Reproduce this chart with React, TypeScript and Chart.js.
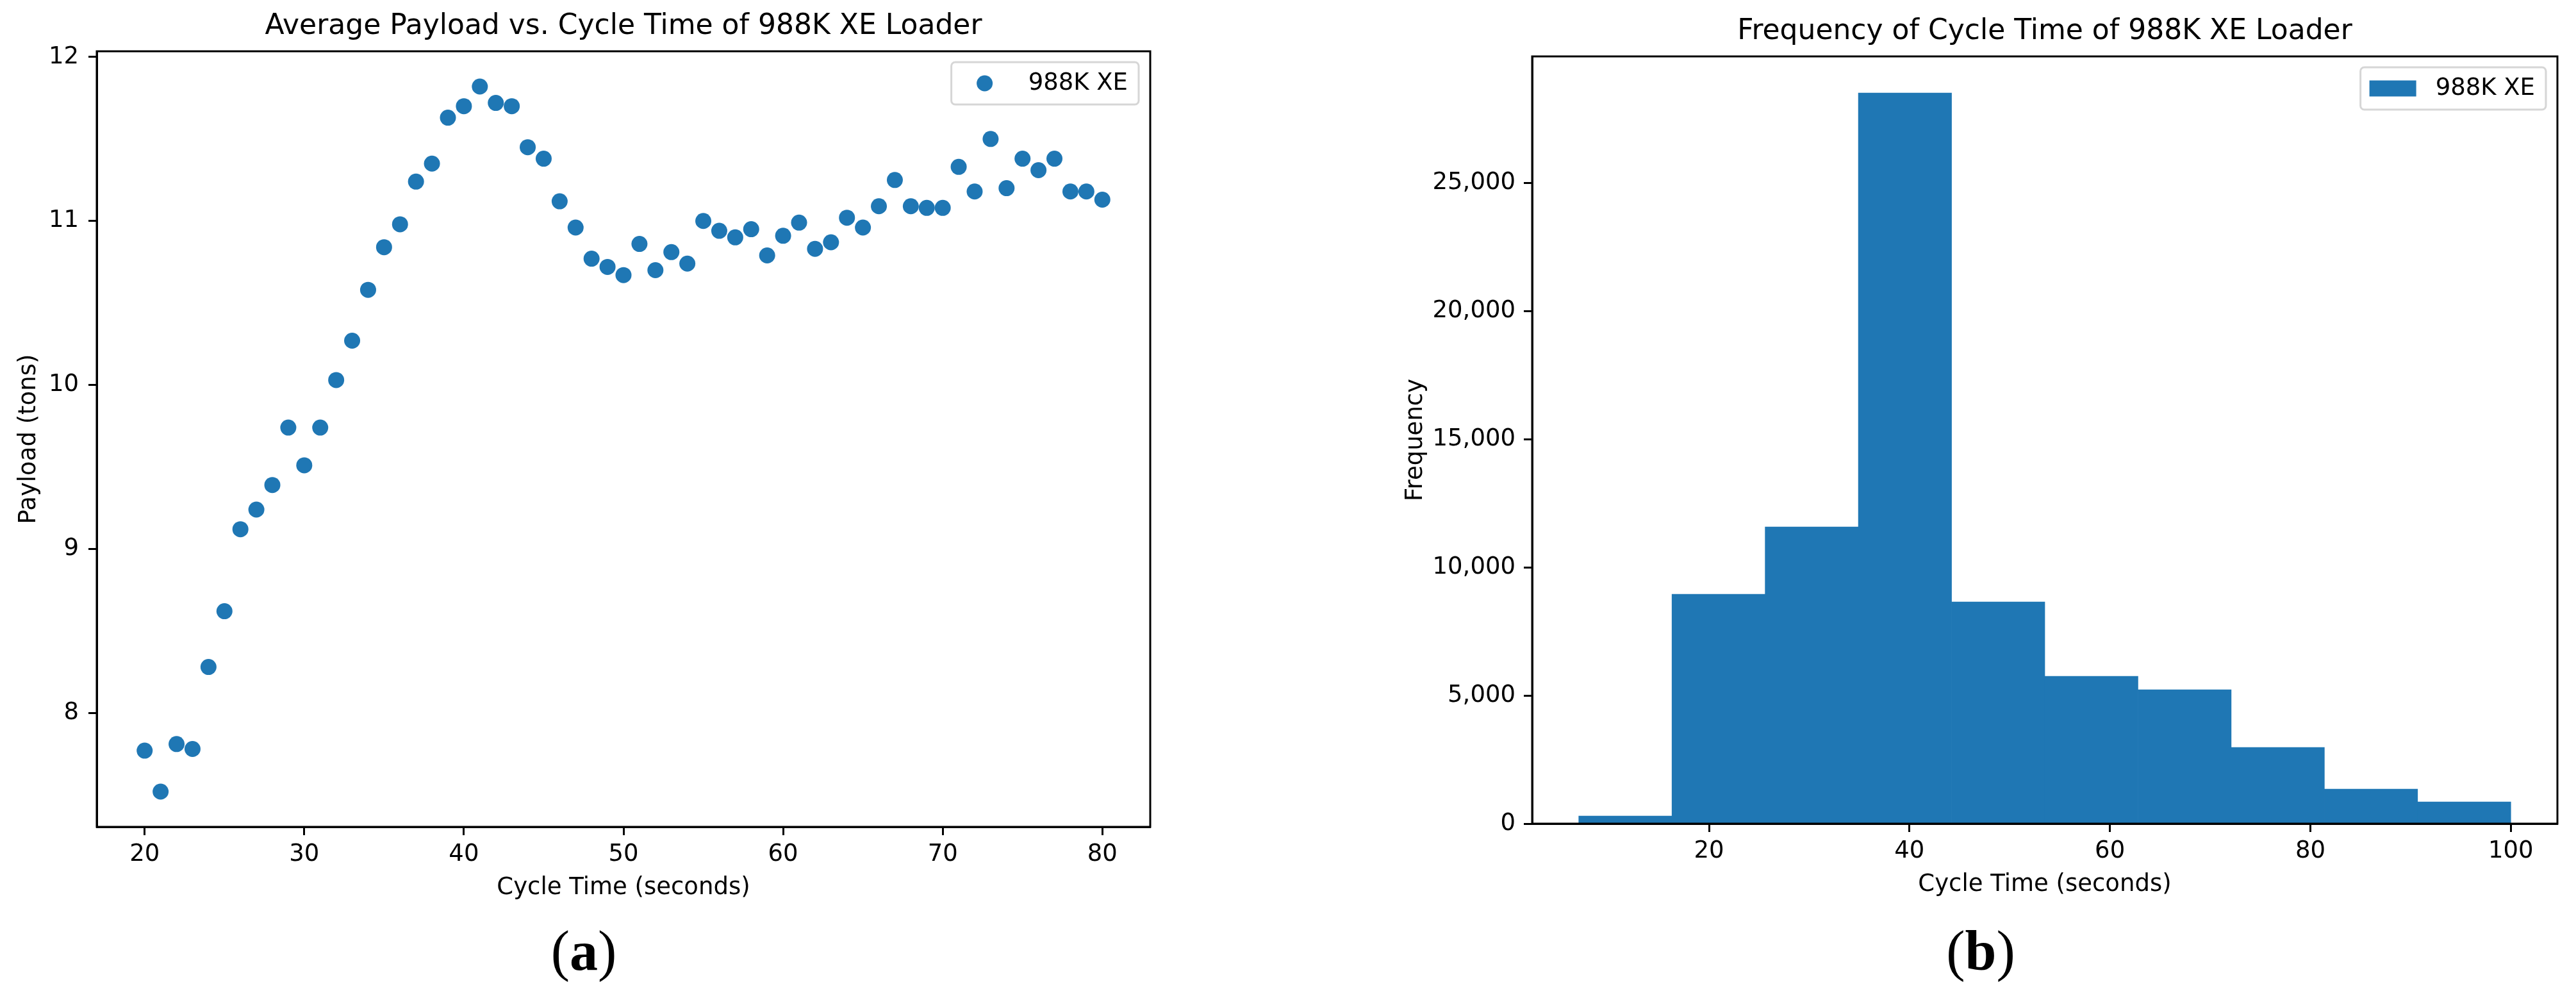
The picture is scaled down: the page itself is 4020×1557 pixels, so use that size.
import { useEffect, useRef } from "react";
import { Chart, registerables } from "chart.js";

Chart.register(...registerables);

const FONT = "'DejaVu Sans', 'Liberation Sans', sans-serif";
const BLUE = "#1f77b4";

// (a) average payload per cycle time
const cycleTimes = [
  20, 21, 22, 23, 24, 25, 26, 27, 28, 29, 30, 31, 32, 33, 34, 35, 36, 37, 38, 39, 40,
  41, 42, 43, 44, 45, 46, 47, 48, 49, 50, 51, 52, 53, 54, 55, 56, 57, 58, 59, 60,
  61, 62, 63, 64, 65, 66, 67, 68, 69, 70, 71, 72, 73, 74, 75, 76, 77, 78, 79, 80,
];
const payloads = [
  7.77, 7.52, 7.81, 7.78, 8.28, 8.62, 9.12, 9.24, 9.39, 9.74, 9.51, 9.74, 10.03, 10.27, 10.58, 10.84, 10.98, 11.24, 11.35, 11.63, 11.7,
  11.82, 11.72, 11.7, 11.45, 11.38, 11.12, 10.96, 10.77, 10.72, 10.67, 10.86, 10.7, 10.81, 10.74, 11.0, 10.94, 10.9, 10.95, 10.79, 10.91,
  10.99, 10.83, 10.87, 11.02, 10.96, 11.09, 11.25, 11.09, 11.08, 11.08, 11.33, 11.18, 11.5, 11.2, 11.38, 11.31, 11.38, 11.18, 11.18, 11.13,
];
const payloadXTicks = [20, 30, 40, 50, 60, 70, 80];
const payloadYTicks = [8, 9, 10, 11, 12];

// (b) histogram of cycle time
const binEdges = [7, 16.3, 25.6, 34.9, 44.2, 53.5, 62.8, 72.1, 81.4, 90.7, 100];
const binCounts = [300, 8950, 11575, 28500, 8650, 5750, 5225, 2975, 1350, 850];
const histXTicks = [20, 40, 60, 80, 100];
const histYTicks = [0, 5000, 10000, 15000, 20000, 25000];

const seriesLabel = "988K XE";

const framePlugin = {
  id: "frame",
  afterDraw(chart: any) {
    const { ctx, chartArea: a } = chart;
    ctx.save();
    ctx.strokeStyle = "#000";
    ctx.lineWidth = 3;
    ctx.strokeRect(a.left, a.top, a.right - a.left, a.bottom - a.top);
    ctx.restore();
  },
};

// matplotlib-style legend box in the upper right corner of the axes
const boxLegend = {
  id: "boxLegend",
  afterDraw(chart: any, _args: any, opts: any) {
    const { ctx, chartArea: a } = chart;
    const ds = chart.data.datasets[0];
    ctx.save();
    ctx.font = `37px ${FONT}`;
    const tw = ctx.measureText(ds.label).width;
    const right = a.right - 18;
    const top = a.top + 17;
    const h = 66;
    const textRight = right - 17;
    const textLeft = textRight - tw;
    const left = textLeft - opts.lead;
    const cy = top + h / 2;
    ctx.fillStyle = "rgba(255,255,255,0.8)";
    ctx.strokeStyle = "#d6d6d6";
    ctx.lineWidth = 3;
    ctx.beginPath();
    ctx.roundRect(left, top, right - left, h, 6);
    ctx.fill();
    ctx.stroke();
    ctx.fillStyle = ds.backgroundColor;
    if (opts.marker === "dot") {
      ctx.beginPath();
      ctx.arc(textLeft - 68, cy, 12.5, 0, Math.PI * 2);
      ctx.fill();
    } else {
      ctx.fillRect(textLeft - 103, cy - 12.5, 73, 25);
    }
    ctx.fillStyle = "#000";
    ctx.textAlign = "left";
    ctx.textBaseline = "middle";
    ctx.fillText(ds.label, textLeft, cy);
    ctx.restore();
  },
};

function axis(
  min: number,
  max: number,
  tickValues: number[],
  size: number,
  title: string,
  titlePad: any,
  tickPad: number,
  horizontal: boolean,
  fmt?: (v: number) => string
) {
  return {
    type: "linear",
    min,
    max,
    offset: false,
    afterBuildTicks(scale: any) {
      scale.ticks = tickValues.map((value) => ({ value }));
    },
    afterFit(scale: any) {
      if (horizontal) scale.height = size;
      else scale.width = size;
    },
    grid: { drawOnChartArea: false, drawTicks: true, tickLength: 13, tickWidth: 3, tickColor: "#000", offset: false },
    border: { display: true, color: "#000", width: 3 },
    ticks: {
      autoSkip: false,
      maxRotation: 0,
      color: "#000",
      padding: tickPad,
      font: { family: FONT, size: 37 },
      callback: fmt ? (v: any) => fmt(Number(v)) : (v: any) => String(v),
    },
    title: { display: true, text: title, color: "#000", font: { family: FONT, size: 37 }, padding: titlePad },
  };
}

function chartTitle(text: string, top: number) {
  return {
    display: true,
    text,
    fullSize: false,
    color: "#000",
    font: { family: FONT, size: 44, weight: "normal" },
    padding: { top, bottom: 11.6 },
  };
}

function PayloadChart() {
  const canvasRef = useRef<HTMLCanvasElement>(null);
  useEffect(() => {
    if (!canvasRef.current) return;
    const chart = new Chart(canvasRef.current, {
      type: "scatter",
      data: {
        datasets: [
          {
            label: seriesLabel,
            data: cycleTimes.map((x, i) => ({ x, y: payloads[i] })),
            backgroundColor: BLUE,
            borderWidth: 0,
            pointRadius: 12.5,
            pointHoverRadius: 12.5,
          },
        ],
      },
      options: {
        animation: false,
        responsive: true,
        maintainAspectRatio: false,
        layout: { autoPadding: false, padding: { left: 0, right: 215, top: 0, bottom: 137 } },
        plugins: {
          legend: { display: false },
          tooltip: { enabled: false },
          title: chartTitle("Average Payload vs. Cycle Time of 988K XE Loader", 15.6),
          boxLegend: { marker: "dot", lead: 120 },
        } as any,
        scales: {
          x: axis(17, 83, payloadXTicks, 130, "Cycle Time (seconds)", { top: 0, bottom: 12.8 }, 8, true),
          y: axis(7.305, 12.035, payloadYTicks, 151, "Payload (tons)", { top: 23, bottom: 0 }, 15, false),
        } as any,
      },
      plugins: [framePlugin, boxLegend],
    });
    return () => chart.destroy();
  }, []);
  return (
    <div style={{ position: "absolute", left: 0, top: 0, width: 2010, height: 1557 }}>
      <canvas ref={canvasRef} />
    </div>
  );
}

function HistogramChart() {
  const canvasRef = useRef<HTMLCanvasElement>(null);
  useEffect(() => {
    if (!canvasRef.current) return;
    const centers = binCounts.map((_, i) => (binEdges[i] + binEdges[i + 1]) / 2);
    const chart = new Chart(canvasRef.current, {
      type: "bar",
      data: {
        datasets: [
          {
            label: seriesLabel,
            data: centers.map((x, i) => ({ x, y: binCounts[i] })),
            backgroundColor: BLUE,
            borderWidth: 0,
            barPercentage: 1,
            categoryPercentage: 1,
          },
        ],
      },
      options: {
        animation: false,
        responsive: true,
        maintainAspectRatio: false,
        layout: { autoPadding: false, padding: { left: 0, right: 29, top: 0, bottom: 142 } },
        plugins: {
          legend: { display: false },
          tooltip: { enabled: false },
          title: chartTitle("Frequency of Cycle Time of 988K XE Loader", 23.6),
          boxLegend: { marker: "patch", lead: 117 },
        } as any,
        scales: {
          x: axis(2.35, 104.65, histXTicks, 130, "Cycle Time (seconds)", { top: 0, bottom: 12.8 }, 8, true),
          y: axis(0, 29925, histYTicks, 381, "Frequency", { top: 177, bottom: 0 }, 13, false, (v) => v.toLocaleString("en-US")),
        } as any,
      },
      plugins: [framePlugin, boxLegend],
    });
    return () => chart.destroy();
  }, []);
  return (
    <div style={{ position: "absolute", left: 2010, top: 0, width: 2010, height: 1557 }}>
      <canvas ref={canvasRef} />
    </div>
  );
}

function PanelLabel({ letter, center }: { letter: string; center: number }) {
  return (
    <div
      style={{
        position: "absolute",
        left: center - 200,
        top: 1440,
        width: 400,
        height: 88,
        lineHeight: "88px",
        textAlign: "center",
        fontFamily: "'Liberation Serif', 'Times New Roman', serif",
        fontSize: 88,
        color: "#000",
      }}
    >
      (<b>{letter}</b>)
    </div>
  );
}

export default function App() {
  return (
    <div style={{ position: "fixed", left: 0, top: 0, width: 4020, height: 1557, background: "#fff", overflow: "hidden" }}>
      <PayloadChart />
      <HistogramChart />
      <PanelLabel letter="a" center={911} />
      <PanelLabel letter="b" center={3091} />
    </div>
  );
}
